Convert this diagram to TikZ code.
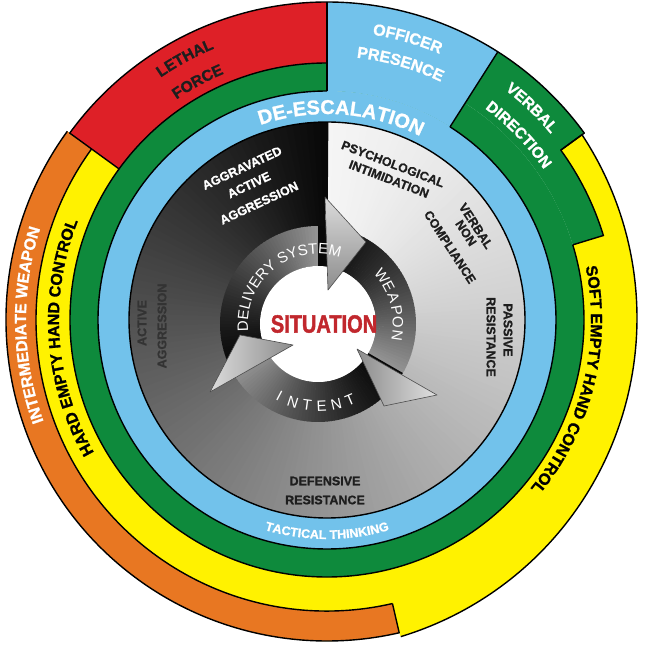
\documentclass[tikz,border=0pt]{standalone}
\usepackage{fontspec}
\setmainfont{Liberation Sans}
\newfontfamily\sitfont[FakeStretch=0.8,FakeBold=1.6]{Liberation Sans}
\newfontfamily\hv[FakeBold=1.1]{Liberation Sans}
\usetikzlibrary{decorations.text}
\definecolor{cOrange}{RGB}{232,119,34}
\definecolor{cYellow}{RGB}{255,242,0}
\definecolor{cGreen}{RGB}{14,138,60}
\definecolor{cBlue}{RGB}{114,194,235}
\definecolor{cRed}{RGB}{222,32,39}
\definecolor{cSit}{RGB}{193,39,45}
\definecolor{cDark}{RGB}{30,30,30}
\begin{document}
\begin{tikzpicture}[x=1pt,y=1pt,
  outline/.style={draw=black,line width=1.4pt,line join=round},
  headstyle/.style={draw=black!70,line width=0.6pt,line join=round},
  inlbl/.style={font=\hv\fontsize{12.5}{13}\selectfont\bfseries, inner sep=0pt},
  ringltr/.style={font=\fontsize{15}{15}\selectfont, text=white, inner sep=0pt}]

\useasboundingbox (-327,-327) rectangle (320,320);
\fill[white] (-327,-327) rectangle (320,320);

% ---------- coloured rings ----------
\fill[cYellow] (144:257) arc[start angle=144,end angle=377,radius=257]
  -- (17:289) arc[start angle=17,end angle=36,radius=289]
  -- ([shift={(-23,2)}]33.4:333) arc[start angle=33.4,end angle=-73.1,radius=333]
  -- (-77:321) arc[start angle=-77,end angle=-216,radius=321] -- cycle;
\fill[cOrange] (144:321) arc[start angle=144,end angle=283,radius=321]
  -- (283:291) arc[start angle=283,end angle=144,radius=291] -- cycle;
\fill[cRed] (90:318) arc[start angle=90,end angle=144,radius=318]
  -- (144:257) arc[start angle=144,end angle=90,radius=257] -- cycle;
\fill[cGreen,even odd rule] (0,0) circle[radius=257] (0,0) circle[radius=229];
\fill[cGreen] (57.5:257) -- (57.5:318) arc[start angle=57.5,end angle=36,radius=318]
  -- (36:289) arc[start angle=36,end angle=17,radius=289]
  -- (17:257) arc[start angle=17,end angle=57.5,radius=257] -- cycle;
\fill[cBlue,even odd rule] (0,0) circle[radius=229] (0,0) circle[radius=198];
\fill[cBlue] (57.5:229) -- (57.5:318) arc[start angle=57.5,end angle=90,radius=318]
  -- (90:229) arc[start angle=90,end angle=57.5,radius=229] -- cycle;

% ---------- conic grey disk ----------
\foreach \i in {0,...,179}{
  \pgfmathsetmacro\dA{90-2*\i}
  \pgfmathsetmacro\dB{\dA-2.4}
  \pgfmathsetmacro\gv{0.96-0.93*((\i+0.5)/180)^1.3}
  \definecolor{cg}{gray}{\gv}
  \fill[cg] (0,0) -- (\dA:198) arc[start angle=\dA,end angle=\dB,radius=198] -- cycle;
}

% ---------- outlines ----------
\draw[outline] (144:321) arc[start angle=144,end angle=283,radius=321] -- (283:291);
\draw[outline] (283:291) arc[start angle=283,end angle=144,radius=291];
\draw[outline] ([shift={(-23,2)}]-73.1:333) arc[start angle=-73.1,end angle=33.4,radius=333]
  -- (36:289) arc[start angle=36,end angle=17,radius=289] -- (17:257);
\draw[outline] (36:289) -- (36:318) arc[start angle=36,end angle=144,radius=318] -- (144:257);
\draw[outline] (57.5:229) -- (57.5:318);
\draw[outline] (90:229) -- (90:318);
\draw[outline] (90:257) arc[start angle=90,end angle=377,radius=257];
\draw[outline] (90:229) arc[start angle=90,end angle=417.5,radius=229];
\draw[outline] (0,0) circle[radius=198];

% ---------- outer labels (along arcs) ----------
\path[decorate,decoration={text along path,text align=center,
  text={|\hv\fontsize{15.5}{16}\selectfont\bfseries\color{cDark}|LETHAL}}]
  (143:294) arc[start angle=143,end angle=94,radius=294];
\path[decorate,decoration={text along path,text align=center,
  text={|\hv\fontsize{15.5}{16}\selectfont\bfseries\color{cDark}|FORCE}}]
  (143:267) arc[start angle=143,end angle=94,radius=267];
\path[decorate,decoration={text along path,text align=center,
  text={|\hv\fontsize{16}{16}\selectfont\bfseries\color{white}|OFFICER}}]
  (99:289) arc[start angle=99,end angle=49,radius=289];
\path[decorate,decoration={text along path,text align=center,
  text={|\hv\fontsize{16}{16}\selectfont\bfseries\color{white}|PRESENCE}}]
  (99:264) arc[start angle=99,end angle=49,radius=264];
\path[decorate,decoration={text along path,text align=center,
  text={|\hv\fontsize{15.5}{16}\selectfont\bfseries\color{white}|VERBAL}}]
  (71:291) arc[start angle=71,end angle=21,radius=291];
\path[decorate,decoration={text along path,text align=center,
  text={|\hv\fontsize{15.5}{16}\selectfont\bfseries\color{white}|DIRECTION}}]
  (69:264) arc[start angle=69,end angle=19,radius=264];

\path[decorate,decoration={text along path,text align=center,
  text={|\hv\fontsize{20}{20}\selectfont\bfseries\color{white}|DE-ESCALATION}}]
  (126:206) arc[start angle=126,end angle=46,radius=206];
\path[decorate,decoration={text along path,text align=center,
  text={|\hv\fontsize{12.5}{13}\selectfont\bfseries\color{white}|TACTICAL THINKING}}]
  (230:219) arc[start angle=230,end angle=310,radius=219];
\path[decorate,decoration={text along path,text align=center,
  text={|\hv\fontsize{16}{16}\selectfont\bfseries\color{black}|HARD EMPTY HAND CONTROL}}]
  (234:268) arc[start angle=234,end angle=134,radius=268];
\path[decorate,decoration={text along path,text align=center,
  text={|\hv\fontsize{16}{16}\selectfont\bfseries\color{white}|INTERMEDIATE WEAPON}}]
  (231:301) arc[start angle=231,end angle=131,radius=301];
\path[decorate,decoration={text along path,text align=center,
  text={|\hv\fontsize{16}{16}\selectfont\bfseries\color{black}|SOFT EMPTY HAND CONTROL}}]
  (36:264) arc[start angle=36,end angle=-64,radius=264];

% ---------- inner labels ----------
\node[inlbl,text=white,rotate=25] (agg1) at (-85,152) {AGGRAVATED};
\node[inlbl,text=white,rotate=25] (agg2) at (-78,135) {ACTIVE};
\node[inlbl,text=white,rotate=25] (agg3) at (-68,117) {AGGRESSION};
\node[inlbl,text=cDark,rotate=-21] (psy1) at (66,156) {PSYCHOLOGICAL};
\node[inlbl,text=cDark,rotate=-21] (psy2) at (62,141) {INTIMIDATION};
\node[inlbl,text=cDark,rotate=-57] (vnc1) at (149,94) {VERBAL};
\node[inlbl,text=cDark,rotate=-57] (vnc2) at (139,87) {NON};
\node[inlbl,text=cDark,rotate=-57] (vnc3) at (123,73) {COMPLIANCE};
\node[inlbl,text=cDark,rotate=-90] (pas1) at (181,-10) {PASSIVE};
\node[inlbl,text=cDark,rotate=-90] (pas2) at (164,-17) {RESISTANCE};
\node[inlbl,text=black!80,rotate=90] (act1) at (-185,-3) {ACTIVE};
\node[inlbl,text=black!80,rotate=90] (act2) at (-165,-6) {AGGRESSION};
\node[inlbl,text=cDark] (def1) at (-2,-161) {DEFENSIVE};
\node[inlbl,text=cDark] (def2) at (-2,-180) {RESISTANCE};

% ---------- inner cycle ----------
\begin{scope}[shift={(-9,-4)}]
\foreach \k in {0,1,2}{
  \foreach \i in {0,...,59}{
    \pgfmathsetmacro\angA{210-120*\k-2*\i}
    \pgfmathsetmacro\angB{\angA-2.4}
    \pgfmathsetmacro\gv{0.03+0.55*((\i+0.5)/60)^1.4}
    \definecolor{cr}{gray}{\gv}
    \fill[cr] (\angA:58) arc[start angle=\angA,end angle=\angB,radius=58]
      -- (\angB:98) arc[start angle=\angB,end angle=\angA,radius=98] -- cycle;
  }
}
\fill[white] (0,0) circle[radius=58];
\end{scope}
% arrowheads (measured positions)
\shadedraw[headstyle,top color=black!14,bottom color=black!45]
  (-2,123) -- (39,78) -- (1,30) -- cycle;
\shadedraw[headstyle,left color=black!45,right color=black!12]
  (110,-75) -- (57,-86) -- (30,-29) -- cycle;
\shadedraw[headstyle,left color=black!14,right color=black!45]
  (-117,-72) -- (-87,-15) -- (-34,-25) -- cycle;
\begin{scope}[shift={(-9,-4)}]
\path[decorate,decoration={text along path,text align=center,
  text={|\fontsize{15}{15}\selectfont\color{white}|DELIVERY SYSTEM}}]
  (200:70) arc[start angle=200,end angle=58,radius=70];
\foreach \ch [count=\n] in {W,E,A,P,O,N}{
  \pgfmathsetmacro\wa{37-9*(\n-1)}
  \pgfmathsetmacro\wr{\wa-90}
  \node[ringltr,rotate=\wr] (wp\n) at (\wa:80) {\ch};
}
\foreach \ch [count=\n] in {I,N,T,E,N,T}{
  \pgfmathsetmacro\ia{242+10.2*(\n-1)}
  \pgfmathsetmacro\ir{\ia+90}
  \node[ringltr,rotate=\ir] (in\n) at (\ia:82) {\ch};
}
\end{scope}
\node[font={\sitfont\fontsize{25}{25}\selectfont\bfseries},text=cSit,inner sep=0pt] (sit) at (-3,-4) {SITUATION};
\end{tikzpicture}
\end{document}
